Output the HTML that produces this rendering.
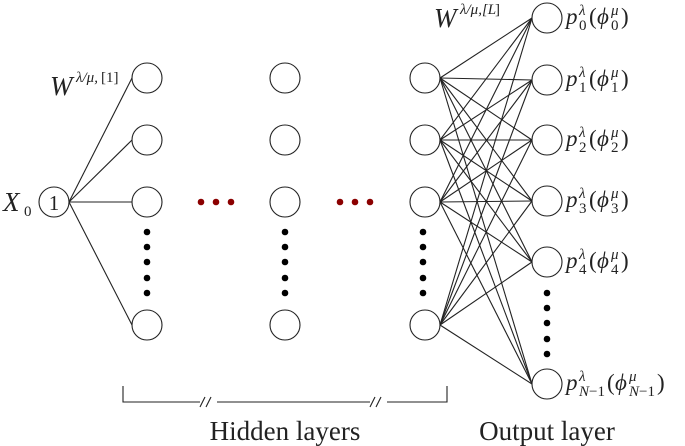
<!DOCTYPE html>
<html><head><meta charset="utf-8"><style>
html,body{margin:0;padding:0;background:#fff}
svg{display:block}
text{font-family:"Liberation Serif","DejaVu Serif",serif;fill:#222}
.i{font-style:italic}
.m{font-size:23px}
.s{font-size:15px}
</style></head><body>
<svg width="685" height="446" viewBox="0 0 685 446" xmlns="http://www.w3.org/2000/svg">
<g stroke="#222" stroke-width="1.1" fill="none">
<line x1="69" y1="202" x2="132" y2="78"/>
<line x1="69" y1="202" x2="132" y2="140"/>
<line x1="69" y1="202" x2="132" y2="202"/>
<line x1="69" y1="202" x2="132" y2="325"/>
<line x1="440" y1="78" x2="532" y2="18"/><line x1="440" y1="78" x2="532" y2="80"/><line x1="440" y1="78" x2="532" y2="140"/><line x1="440" y1="78" x2="532" y2="201"/><line x1="440" y1="78" x2="532" y2="262"/><line x1="440" y1="78" x2="532" y2="384"/>
<line x1="440" y1="140" x2="532" y2="18"/><line x1="440" y1="140" x2="532" y2="80"/><line x1="440" y1="140" x2="532" y2="140"/><line x1="440" y1="140" x2="532" y2="201"/><line x1="440" y1="140" x2="532" y2="262"/><line x1="440" y1="140" x2="532" y2="384"/>
<line x1="440" y1="202" x2="532" y2="18"/><line x1="440" y1="202" x2="532" y2="80"/><line x1="440" y1="202" x2="532" y2="140"/><line x1="440" y1="202" x2="532" y2="201"/><line x1="440" y1="202" x2="532" y2="262"/><line x1="440" y1="202" x2="532" y2="384"/>
<line x1="440" y1="325" x2="532" y2="18"/><line x1="440" y1="325" x2="532" y2="80"/><line x1="440" y1="325" x2="532" y2="140"/><line x1="440" y1="325" x2="532" y2="201"/><line x1="440" y1="325" x2="532" y2="262"/><line x1="440" y1="325" x2="532" y2="384"/>
<g fill="#fff">
<circle cx="54" cy="202" r="15"/>
<circle cx="147" cy="78" r="15"/><circle cx="147" cy="140" r="15"/><circle cx="147" cy="202" r="15"/><circle cx="147" cy="325" r="15"/>
<circle cx="285" cy="78" r="15"/><circle cx="285" cy="140" r="15"/><circle cx="285" cy="202" r="15"/><circle cx="285" cy="325" r="15"/>
<circle cx="425" cy="78" r="15"/><circle cx="425" cy="140" r="15"/><circle cx="425" cy="202" r="15"/><circle cx="425" cy="325" r="15"/>
<circle cx="547" cy="18" r="15"/><circle cx="547" cy="80" r="15"/><circle cx="547" cy="140" r="15"/><circle cx="547" cy="201" r="15"/><circle cx="547" cy="262" r="15"/><circle cx="547" cy="384" r="15"/>
</g>
<polyline points="123,386 123,402 200,402"/>
<line x1="217" y1="402" x2="370" y2="402"/>
<polyline points="387,402 447,402 447,386"/>
<line x1="200" y1="407" x2="205" y2="397"/><line x1="206" y1="407" x2="211" y2="397"/>
<line x1="370" y1="407" x2="375" y2="397"/><line x1="376" y1="407" x2="381" y2="397"/>
</g>
<g fill="#000">
<circle cx="147" cy="232" r="3.3"/><circle cx="147" cy="247" r="3.3"/><circle cx="147" cy="262" r="3.3"/><circle cx="147" cy="278" r="3.3"/><circle cx="147" cy="293" r="3.3"/>
<circle cx="285" cy="232" r="3.3"/><circle cx="285" cy="247" r="3.3"/><circle cx="285" cy="262" r="3.3"/><circle cx="285" cy="278" r="3.3"/><circle cx="285" cy="293" r="3.3"/>
<circle cx="423" cy="232" r="3.3"/><circle cx="423" cy="247" r="3.3"/><circle cx="423" cy="262" r="3.3"/><circle cx="423" cy="278" r="3.3"/><circle cx="423" cy="293" r="3.3"/>
<circle cx="547" cy="293" r="3.3"/><circle cx="547" cy="308" r="3.3"/><circle cx="547" cy="323" r="3.3"/><circle cx="547" cy="339" r="3.3"/><circle cx="547" cy="354" r="3.3"/>
</g>
<g fill="#8b0000">
<circle cx="201" cy="202" r="3.3"/><circle cx="216" cy="202" r="3.3"/><circle cx="231" cy="202" r="3.3"/>
<circle cx="340" cy="202" r="3.3"/><circle cx="355" cy="202" r="3.3"/><circle cx="370" cy="202" r="3.3"/>
</g>
<text x="54" y="210" font-size="21" text-anchor="middle">1</text>
<text x="3" y="211" class="i" font-size="27">X</text><text x="24" y="216" class="s">0</text>
<text x="50" y="95" class="i" font-size="27">W</text><text x="76" y="82" class="s i">λ/μ,</text><text x="101" y="82" class="s">[1]</text>
<text x="434" y="27" class="i" font-size="27">W</text><text x="460" y="14" class="s i">λ/μ,[L</text><text x="495" y="14" class="s">]</text>

<g>
<text x="566" y="24" class="m i">p</text><text x="579" y="15" class="s i">λ</text><text x="579" y="30" class="s">0</text><text x="589" y="24" class="m">(</text><text x="597" y="24" class="m i">ϕ</text><text x="611" y="15" class="s i">μ</text><text x="611" y="30" class="s">0</text><text x="621" y="24" class="m">)</text>
</g>
<g transform="translate(0,62)">
<text x="566" y="24" class="m i">p</text><text x="579" y="15" class="s i">λ</text><text x="579" y="30" class="s">1</text><text x="589" y="24" class="m">(</text><text x="597" y="24" class="m i">ϕ</text><text x="611" y="15" class="s i">μ</text><text x="611" y="30" class="s">1</text><text x="621" y="24" class="m">)</text>
</g>
<g transform="translate(0,122)">
<text x="566" y="24" class="m i">p</text><text x="579" y="15" class="s i">λ</text><text x="579" y="30" class="s">2</text><text x="589" y="24" class="m">(</text><text x="597" y="24" class="m i">ϕ</text><text x="611" y="15" class="s i">μ</text><text x="611" y="30" class="s">2</text><text x="621" y="24" class="m">)</text>
</g>
<g transform="translate(0,183)">
<text x="566" y="24" class="m i">p</text><text x="579" y="15" class="s i">λ</text><text x="579" y="30" class="s">3</text><text x="589" y="24" class="m">(</text><text x="597" y="24" class="m i">ϕ</text><text x="611" y="15" class="s i">μ</text><text x="611" y="30" class="s">3</text><text x="621" y="24" class="m">)</text>
</g>
<g transform="translate(0,244)">
<text x="566" y="24" class="m i">p</text><text x="579" y="15" class="s i">λ</text><text x="579" y="30" class="s">4</text><text x="589" y="24" class="m">(</text><text x="597" y="24" class="m i">ϕ</text><text x="611" y="15" class="s i">μ</text><text x="611" y="30" class="s">4</text><text x="621" y="24" class="m">)</text>
</g>
<g transform="translate(0,366)">
<text x="566" y="24" class="m i">p</text><text x="579" y="15" class="s i">λ</text><text x="579" y="30" class="s"><tspan font-style="italic">N</tspan>−1</text><text x="607" y="24" class="m">(</text><text x="615" y="24" class="m i">ϕ</text><text x="629" y="15" class="s i">μ</text><text x="629" y="30" class="s"><tspan font-style="italic">N</tspan>−1</text><text x="657" y="24" class="m">)</text>
</g>
<text x="285" y="440" font-size="27" text-anchor="middle">Hidden layers</text>
<text x="547" y="440" font-size="27" text-anchor="middle">Output layer</text>
</svg>
</body></html>
